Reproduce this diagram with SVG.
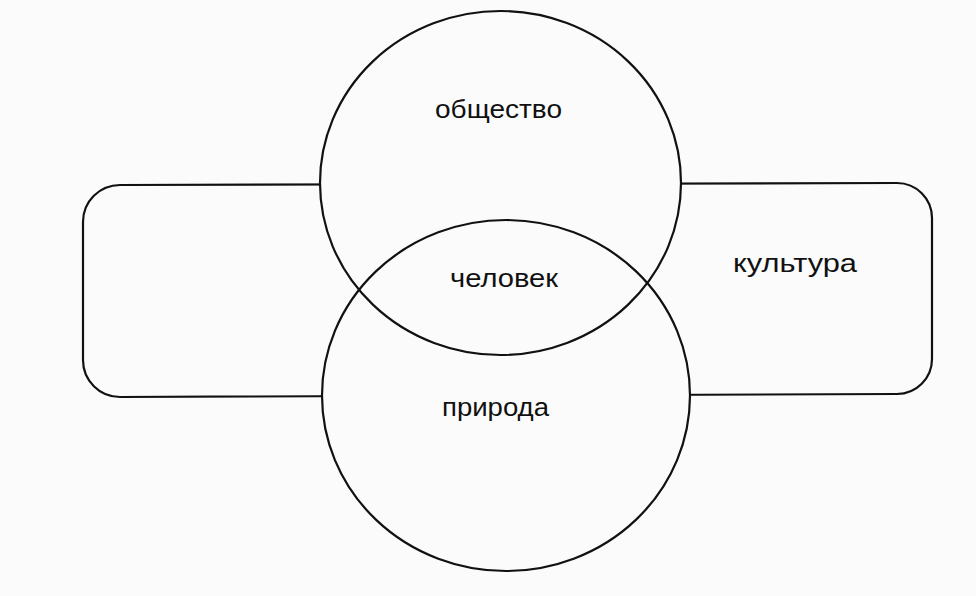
<svg xmlns="http://www.w3.org/2000/svg" width="976" height="596" viewBox="0 0 976 596">
<style>
.ln{fill:none;stroke:#111;stroke-width:2.2}
.bg{fill:#fbfbfb;stroke:none}
.t{font-family:"Liberation Sans",Arial,sans-serif;font-size:25px;fill:#111;text-anchor:middle}
</style>
<rect width="976" height="596" fill="#fbfbfb"/>
<g id="culture">
<path class="ln" d="M120,185 L897,183 A35,35 0 0 1 932,218 L932,359 A35,35 0 0 1 897,394 L120,397 A37,37 0 0 1 83,360 L83,222 A37,37 0 0 1 120,185 Z"/>
<text class="t" x="795" y="272" textLength="124" lengthAdjust="spacingAndGlyphs">культура</text>
</g>
<g id="masks">
<ellipse class="bg" cx="500.5" cy="183" rx="180.5" ry="172"/>
<ellipse class="bg" cx="506" cy="395.5" rx="184" ry="175.5"/>
</g>
<g id="society">
<ellipse class="ln" cx="500.5" cy="183" rx="180.5" ry="172"/>
<text class="t" x="498.5" y="118" textLength="127" lengthAdjust="spacingAndGlyphs">общество</text>
</g>
<g id="nature">
<ellipse class="ln" cx="506" cy="395.5" rx="184" ry="175.5"/>
<text class="t" x="495.5" y="416" textLength="107" lengthAdjust="spacingAndGlyphs">природа</text>
</g>
<g id="human">
<text class="t" x="504" y="287" textLength="108" lengthAdjust="spacingAndGlyphs">человек</text>
</g>
<g id="connectors"></g>
</svg>
